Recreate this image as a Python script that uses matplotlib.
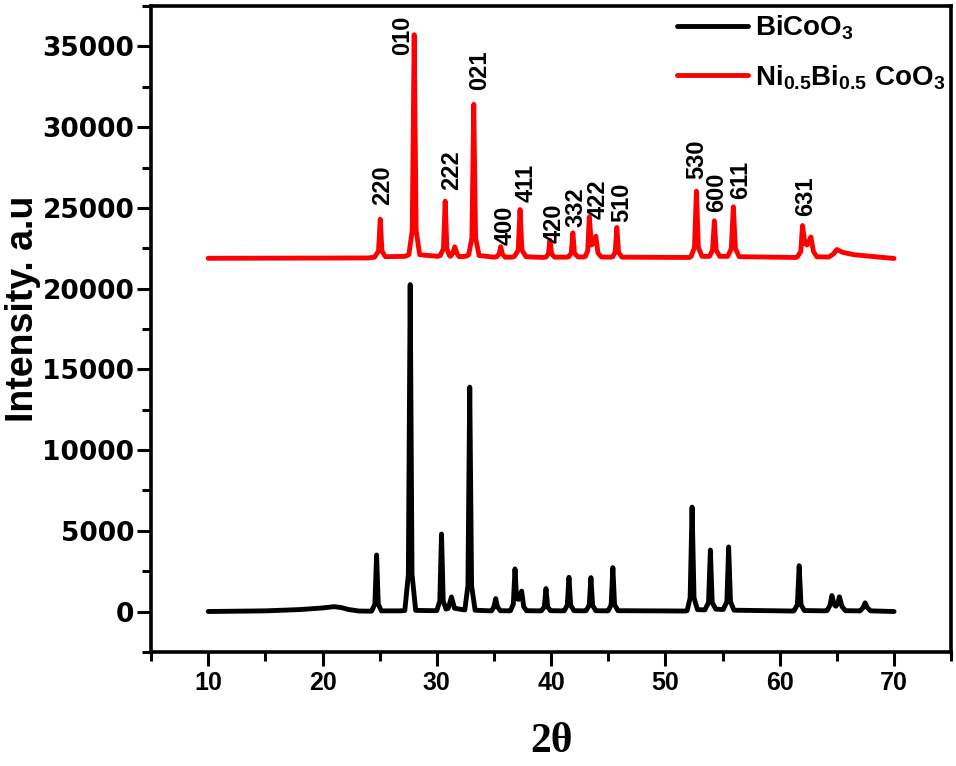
import matplotlib
matplotlib.use("Agg")
import matplotlib.pyplot as plt

# --- curve vertices (2theta, intensity) --------------------------------------
BICOO3_X = [
    10.0, 15.0, 18.0, 20.0, 21.0, 21.6, 22.3, 23.2, 24.2,
    24.3, 24.58, 24.73, 24.88, 25.15, 26.8,
    27.2, 27.51, 27.67, 27.83, 28.15, 29.8,
    30.0, 30.26, 30.41, 30.56, 30.8, 31.0, 31.28, 31.55, 32.4,
    32.45, 32.72, 32.88, 33.04, 33.35, 34.7,
    34.8, 35.0, 35.15, 35.3, 35.55, 36.35,
    36.45, 36.69, 36.84, 36.98, 37.15, 37.42, 37.6, 37.85, 39.0,
    39.15, 39.4, 39.55, 39.7, 39.95, 41.1,
    41.15, 41.41, 41.56, 41.71, 42.0, 43.0,
    43.05, 43.33, 43.48, 43.63, 43.9, 44.9,
    45.0, 45.25, 45.40, 45.55, 45.85, 51.8,
    51.9, 52.16, 52.33, 52.5, 52.8,
    53.45, 53.77, 53.93, 54.09, 54.4,
    55.05, 55.37, 55.53, 55.69, 56.0, 61.2,
    61.25, 61.54, 61.70, 61.86, 62.15, 64.0,
    64.15, 64.4, 64.56, 64.75, 64.9, 65.05, 65.22, 65.45, 65.75, 67.0,
    67.05, 67.3, 67.47, 67.65, 67.95, 70.0,
]
BICOO3_Y = [
    0, 40, 120, 220, 300, 250, 120, 30, 20,
    30, 450, 3500, 450, 40, 40,
    60, 2300, 20250, 2300, 70, 50,
    60, 650, 4800, 650, 150, 200, 900, 200, 100,
    100, 1600, 13900, 1600, 80, 40,
    50, 300, 800, 300, 50, 40,
    60, 450, 2640, 800, 750, 1260, 300, 50, 40,
    50, 280, 1420, 280, 50, 40,
    50, 380, 2120, 380, 50, 40,
    50, 380, 2100, 380, 50, 40,
    50, 420, 2720, 420, 50, 30,
    60, 850, 6470, 850, 120,
    100, 560, 3810, 560, 150,
    120, 600, 4000, 600, 80, 30,
    50, 420, 2840, 420, 60, 40,
    60, 400, 990, 450, 330, 450, 910, 300, 50, 40,
    50, 250, 540, 250, 40, 0,
]

NIBICOO3_X = [
    10.0, 24.0, 24.55,
    24.6, 24.9, 25.05, 25.2, 25.5, 27.2,
    27.55, 27.85, 28.02, 28.19, 28.5, 30.1,
    30.3, 30.58, 30.73, 30.88, 31.1,
    31.2, 31.4, 31.57, 31.75, 31.95, 32.5,
    32.78, 33.07, 33.23, 33.39, 33.7, 35.0,
    35.25, 35.45, 35.59, 35.73, 35.98, 36.6,
    36.8, 37.12, 37.28, 37.45, 37.8, 39.3,
    39.55, 39.76, 39.9, 40.04, 40.3, 41.35,
    41.55, 41.76, 41.9, 42.04, 42.35, 42.85,
    43.0, 43.2, 43.34, 43.52, 43.68, 43.91, 44.1, 44.4, 45.2,
    45.4, 45.6, 45.75, 45.9, 46.2, 52.1,
    52.25, 52.54, 52.71, 52.88, 53.2,
    53.85, 54.12, 54.28, 54.44, 54.75,
    55.45, 55.76, 55.94, 56.12, 56.45, 61.4,
    61.55, 61.84, 61.99, 62.2, 62.4, 62.72, 62.95, 63.25, 64.3,
    64.7, 64.99, 65.5, 66.5, 68.0, 70.0,
]
NIBICOO3_Y = [
    21880, 21900, 21950,
    22000, 22330, 24300, 22330, 21980, 22000,
    22100, 23600, 35730, 23600, 22100, 22000,
    22050, 22480, 25420, 22480, 22050,
    22000, 22200, 22590, 22200, 21980, 22000,
    22080, 23150, 31420, 23150, 22050, 21950,
    21980, 22150, 22600, 22150, 21950, 21950,
    22000, 22380, 24900, 22380, 21980, 21930,
    21960, 22150, 23000, 22150, 21950, 21950,
    21980, 22200, 23460, 22200, 21960, 21960,
    22000, 22350, 24450, 22700, 22800, 23250, 22200, 21960, 21950,
    21980, 22250, 23790, 22250, 21950, 21930,
    22000, 22550, 26040, 22550, 22000,
    22000, 22380, 24200, 22380, 22000,
    22000, 22480, 25070, 22480, 21980, 21930,
    21980, 22300, 23910, 22800, 22700, 23200, 22300, 21970, 21960,
    22150, 22420, 22250, 22100, 22000, 21870,
]

# Miller-index labels: text, 2theta, intensity at the text foot
HKL_TEXT = ["220", "010", "222", "021", "400", "411", "420", "332", "422",
            "510", "530", "600", "611", "631"]
HKL_X = [25.25, 27.0, 31.28, 33.78, 35.94, 37.83, 40.25, 42.14, 44.09,
         46.22, 52.77, 54.45, 56.61, 62.23]
HKL_Y = [25170, 34450, 26100, 32300, 22700, 25340, 22800, 23830, 24290,
         24140, 26820, 24760, 25580, 24490]

X_TICKS = [10, 20, 30, 40, 50, 60, 70]
Y_TICKS = [0, 5000, 10000, 15000, 20000, 25000, 30000, 35000]

plt.rcParams["mathtext.default"] = "regular"

fig = plt.figure(figsize=(9.56, 7.66), dpi=100)
ax = fig.add_axes([0.158, 0.149, 0.837, 0.843])

ax.plot(BICOO3_X, BICOO3_Y, color="black", lw=3.5,
        solid_joinstyle="round", solid_capstyle="round", label="BiCoO$_3$")
ax.plot(NIBICOO3_X, NIBICOO3_Y, color="#ff0000", lw=3.5,
        solid_joinstyle="round", solid_capstyle="round",
        label="Ni$_{0.5}$Bi$_{0.5}$ CoO$_3$")

for t, x, y in zip(HKL_TEXT, HKL_X, HKL_Y):
    ax.text(x, y, t, rotation=90, ha="center", va="bottom",
            fontsize=17, fontweight="bold", family="Liberation Sans")

ax.set_xlim(5, 75)
ax.set_ylim(-2500, 37500)
ax.set_xticks(X_TICKS)
ax.set_xticks([5, 15, 25, 35, 45, 55, 65, 75], minor=True)
ax.set_yticks(Y_TICKS)
ax.set_yticks([-2500 + 5000 * i for i in range(9)], minor=True)

for s in ax.spines.values():
    s.set_linewidth(2.6)
ax.tick_params(which="major", direction="out", length=10, width=2.2)
ax.tick_params(which="minor", direction="out", length=6.5, width=2.2)
ax.tick_params(axis="x", pad=4)
ax.tick_params(axis="y", pad=2)
for lab in ax.get_xticklabels():
    lab.set_fontfamily("Liberation Sans")
    lab.set_fontweight("bold")
    lab.set_fontsize(18)
for lab in ax.get_yticklabels():
    lab.set_fontfamily("DejaVu Sans")
    lab.set_fontweight("bold")
    lab.set_fontsize(19)

ax.set_xlabel("2θ", family="Liberation Serif", fontweight="bold", fontsize=30)
ax.xaxis.set_label_coords(0.5, -0.11)
ax.set_ylabel("Intensity. a.u", family="Liberation Sans", fontweight="bold",
              fontsize=27)
ax.yaxis.set_label_coords(-0.137, 0.532)

leg = ax.legend(loc="upper left", bbox_to_anchor=(0.6575, 0.988), frameon=False,
                prop={"family": "Liberation Sans", "weight": "bold", "size": 20},
                handlelength=2.55, handletextpad=0.25, borderpad=0,
                borderaxespad=0, labelspacing=0.75)
for h in leg.get_lines():
    h.set_linewidth(3.5)

fig.savefig("out.png", dpi=100)
